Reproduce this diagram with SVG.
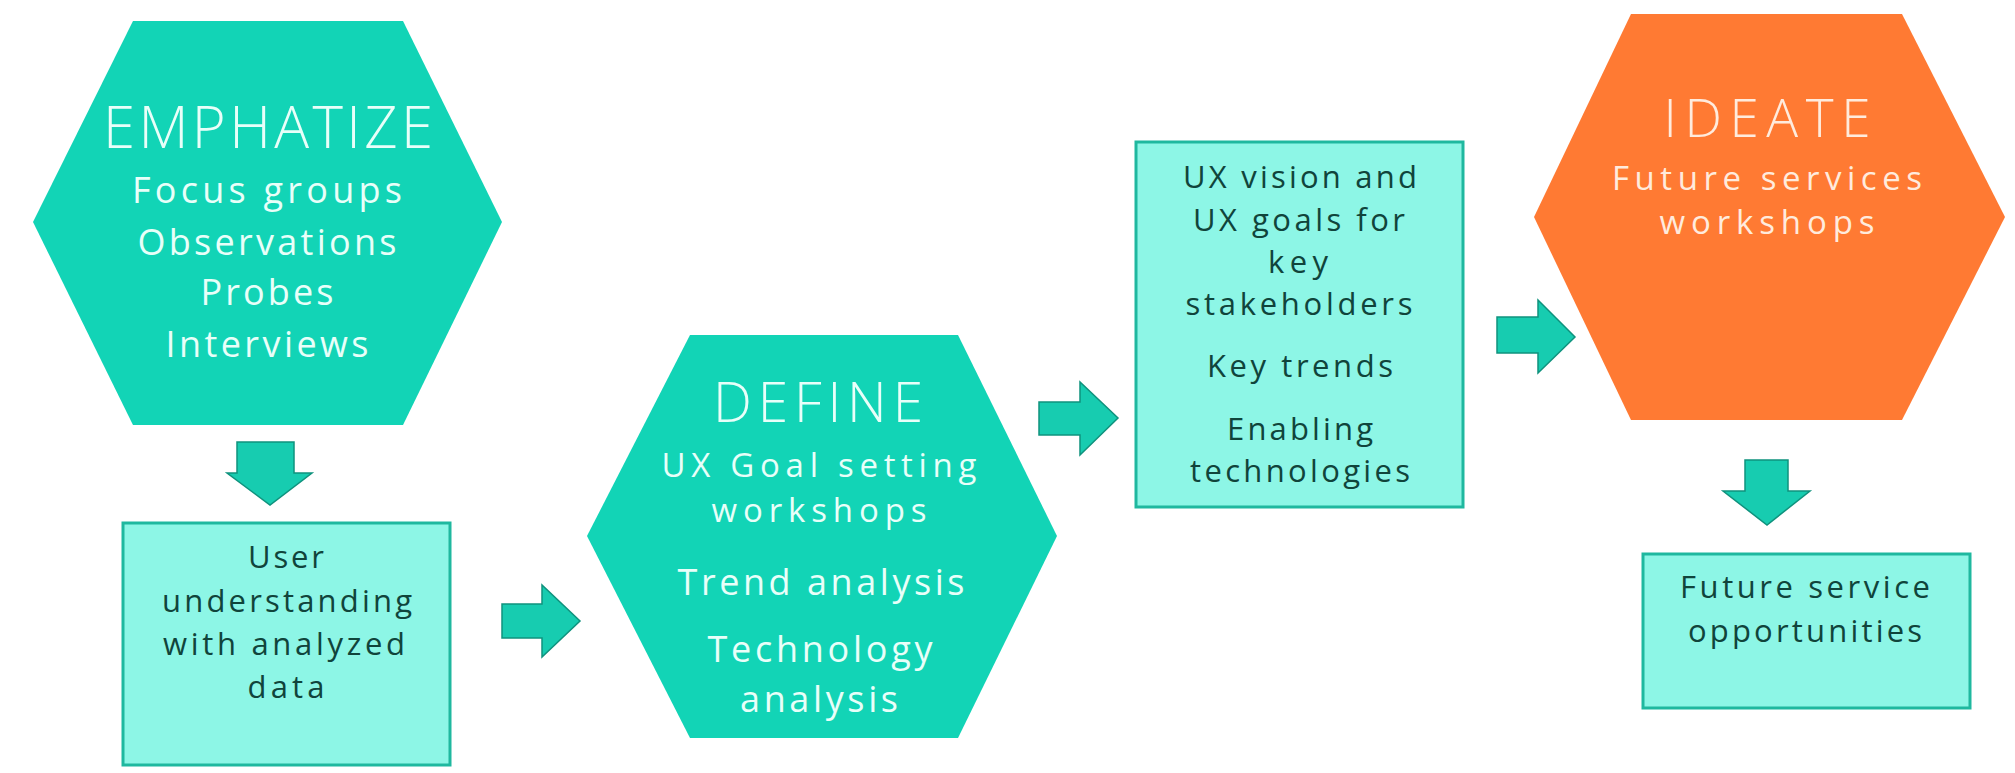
<svg xmlns="http://www.w3.org/2000/svg" width="2015" height="773" viewBox="0 0 2015 773">
<style>
.hex{fill:#12D4B6;}
.hexo{fill:#FF7A33;}
.box{fill:#8DF6E6;stroke:#1FB89F;stroke-width:3;}
.arr{fill:#17CCB0;stroke:#0F927D;stroke-width:1.5;stroke-linejoin:miter;}
.ht{font-family:"Open Sans","Roboto","Lato","Liberation Sans",sans-serif;font-weight:400;fill:#E8FFF9;text-anchor:middle;}
.it{font-family:"Open Sans","Roboto","Lato","Liberation Sans",sans-serif;font-weight:400;fill:#FFEBDD;text-anchor:middle;}
.ti{font-weight:300;}
.bt{font-family:"Open Sans","Roboto","Lato","Liberation Sans",sans-serif;font-weight:400;fill:#10443B;text-anchor:middle;font-size:31px;}
.t1{font-size:58px;}
.t2{font-size:36px;}
.t3{font-size:33px;}
</style>
<rect width="2015" height="773" fill="#FFFFFF"/>

<g id="empathize">
<polygon class="hex" points="133,21 403,21 502,222 403,425 133,425 33,222"/>
<text class="ht ti t1" x="268" y="148" textLength="330" lengthAdjust="spacing">EMPHATIZE</text>
<text class="ht t2" x="267" y="203" textLength="270" lengthAdjust="spacing">Focus groups</text>
<text class="ht t2" x="267" y="255" textLength="259" lengthAdjust="spacing">Observations</text>
<text class="ht t2" x="267" y="305" textLength="133" lengthAdjust="spacing">Probes</text>
<text class="ht t2" x="267" y="357" textLength="203" lengthAdjust="spacing">Interviews</text>
</g>

<g id="user-understanding">
<rect class="box" x="123" y="523" width="327" height="242"/>
<text class="bt" x="286" y="568" textLength="76" lengthAdjust="spacing">User</text>
<text class="bt" x="287" y="612" textLength="250" lengthAdjust="spacing">understanding</text>
<text class="bt" x="284" y="655" textLength="242" lengthAdjust="spacing">with analyzed</text>
<text class="bt" x="286" y="698" textLength="77" lengthAdjust="spacing">data</text>
</g>

<g id="define">
<polygon class="hex" points="690,335 958,335 1057,536 958,738 690,738 587,536"/>
<text class="ht ti" font-size="55" x="818" y="422" textLength="210" lengthAdjust="spacing">DEFINE</text>
<text class="ht t3" x="819" y="477" textLength="315" lengthAdjust="spacing">UX Goal setting</text>
<text class="ht t3" x="819" y="522" textLength="215" lengthAdjust="spacing">workshops</text>
<text class="ht t2" x="821" y="595" textLength="287" lengthAdjust="spacing">Trend analysis</text>
<text class="ht t2" x="820" y="662" textLength="225" lengthAdjust="spacing">Technology</text>
<text class="ht t2" x="819" y="712" textLength="158" lengthAdjust="spacing">analysis</text>
</g>

<g id="ux-vision">
<rect class="box" x="1136" y="142" width="327" height="365"/>
<text class="bt" x="1300" y="188" textLength="234" lengthAdjust="spacing">UX vision and</text>
<text class="bt" x="1299" y="231" textLength="212" lengthAdjust="spacing">UX goals for</text>
<text class="bt" x="1298" y="273" textLength="60" lengthAdjust="spacing">key</text>
<text class="bt" x="1299" y="315" textLength="227" lengthAdjust="spacing">stakeholders</text>
<text class="bt" x="1300" y="377" textLength="186" lengthAdjust="spacing">Key trends</text>
<text class="bt" x="1300" y="440" textLength="146" lengthAdjust="spacing">Enabling</text>
<text class="bt" x="1300" y="482" textLength="220" lengthAdjust="spacing">technologies</text>
</g>

<g id="ideate">
<polygon class="hexo" points="1631,14 1902,14 2005,217 1902,420 1631,420 1534,217"/>
<text class="it ti" font-size="53" x="1767" y="137" textLength="207" lengthAdjust="spacing">IDEATE</text>
<text class="it t3" x="1767" y="190" textLength="310" lengthAdjust="spacing">Future services</text>
<text class="it t3" x="1767" y="234" textLength="215" lengthAdjust="spacing">workshops</text>
</g>

<g id="future-service">
<rect class="box" x="1643" y="554" width="327" height="154"/>
<text class="bt" x="1805" y="598" textLength="250" lengthAdjust="spacing">Future service</text>
<text class="bt" x="1805" y="642" textLength="234" lengthAdjust="spacing">opportunities</text>
</g>

<g id="connectors">
<polygon class="arr" points="237,442 294,442 294,473 312,473 270,505 227,473 237,473"/>
<polygon class="arr" points="502,604 542,604 542,585 580,621 542,657 542,638 502,638"/>
<polygon class="arr" points="1039,402 1080,402 1080,382 1118,418 1080,455 1080,435 1039,435"/>
<polygon class="arr" points="1497,317 1538,317 1538,300 1575,337 1538,373 1538,353 1497,353"/>
<polygon class="arr" points="1745,460 1788,460 1788,491 1810,491 1767,525 1723,491 1745,491"/>
</g>
</svg>
